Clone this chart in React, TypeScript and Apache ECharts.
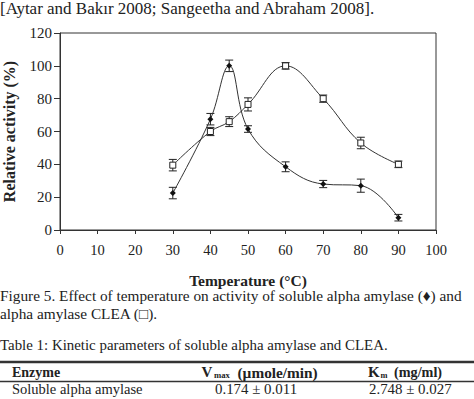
import React, { useEffect, useRef } from "react";
import * as echarts from "echarts";

const temps = [30, 40, 45, 50, 60, 70, 80, 90];
const soluble = [22.5, 67.5, 100, 61.5, 38.5, 28, 27, 7.5];
const solubleErr = [3.5, 3.5, 3.5, 2, 3, 2.2, 4, 2];
const clea = [39.5, 60, 66, 76.5, 100, 80, 53, 40];
const cleaErr = [3.5, 2.5, 3, 4, 2, 2.2, 3.5, 2];
const xTicks = [0, 10, 20, 30, 40, 50, 60, 70, 80, 90, 100];
const yTicks = [0, 20, 40, 60, 80, 100, 120];

const SERIF = "'Liberation Serif', 'Times New Roman', serif";
const INK = "#222";

function txt(text: string, x: number, y: number, size: number, opts: any = {}) {
  return {
    type: "text",
    x,
    y,
    style: {
      text,
      fontFamily: SERIF,
      fontSize: size,
      lineHeight: size,
      fontWeight: opts.bold ? "bold" : "normal",
      fill: INK,
      textAlign: opts.align ?? "left",
      textVerticalAlign: "middle",
    },
    silent: true,
  };
}

function errData(vals: number[], errs: number[]) {
  return temps.map((t, i) => [t, vals[i] - errs[i], vals[i] + errs[i]]);
}

function errorBarSeries(vals: number[], errs: number[]) {
  return {
    type: "custom",
    z: 1,
    data: errData(vals, errs),
    renderItem: (_p: any, api: any) => {
      const x = api.value(0);
      const lo = api.coord([x, api.value(1)]);
      const hi = api.coord([x, api.value(2)]);
      const w = 4;
      const style = { stroke: INK, lineWidth: 1 };
      return {
        type: "group",
        children: [
          { type: "line", shape: { x1: hi[0], y1: hi[1], x2: lo[0], y2: lo[1] }, style },
          { type: "line", shape: { x1: hi[0] - w, y1: hi[1], x2: hi[0] + w, y2: hi[1] }, style },
          { type: "line", shape: { x1: lo[0] - w, y1: lo[1], x2: lo[0] + w, y2: lo[1] }, style },
        ],
      };
    },
  };
}

export default function App() {
  const ref = useRef<HTMLDivElement>(null);
  useEffect(() => {
    if (!ref.current) return;
    const chart = echarts.init(ref.current, undefined, { renderer: "svg" });
    chart.setOption({
      animation: false,
      backgroundColor: "#fff",
      grid: {
        left: 60,
        right: 38,
        top: 33,
        bottom: 169,
        show: true,
        borderColor: "#333",
        borderWidth: 1,
      },
      xAxis: {
        type: "value",
        min: 0,
        max: 100,
        interval: 10,
        axisLine: { show: true, lineStyle: { color: "#333", width: 1 } },
        axisTick: { show: true, length: 4, inside: false, lineStyle: { color: "#333" } },
        splitLine: { show: false },
        axisLabel: {
          margin: 12,
          fontFamily: SERIF,
          fontSize: 14.5,
          color: INK,
          formatter: (v: number) => (xTicks.includes(v) ? String(v) : ""),
        },
      },
      yAxis: {
        type: "value",
        min: 0,
        max: 120,
        interval: 20,
        axisLine: { show: true, lineStyle: { color: "#333", width: 1 } },
        axisTick: { show: true, length: 6, inside: false, lineStyle: { color: "#333" } },
        splitLine: { show: false },
        axisLabel: {
          margin: 8,
          fontFamily: SERIF,
          fontSize: 15,
          color: INK,
          formatter: (v: number) => (yTicks.includes(v) ? String(v) : ""),
        },
      },
      series: [
        errorBarSeries(soluble, solubleErr),
        errorBarSeries(clea, cleaErr),
        {
          type: "line",
          z: 2,
          data: temps.map((t, i) => [t, soluble[i]]),
          smooth: 0.4,
          symbol: "diamond",
          symbolSize: 6,
          lineStyle: { color: "#333", width: 1 },
          itemStyle: { color: "#111" },
        },
        {
          type: "line",
          z: 3,
          data: temps.map((t, i) => [t, clea[i]]),
          smooth: 0.4,
          symbol: "rect",
          symbolSize: 6,
          lineStyle: { color: "#333", width: 1 },
          itemStyle: { color: "#fff", borderColor: INK, borderWidth: 1 },
        },
      ],
      graphic: [
        txt("[Aytar and Bakır 2008; Sangeetha and Abraham 2008].", 0, 8.5, 17),
        {
          type: "text",
          x: 9,
          y: 131.5,
          rotation: Math.PI / 2,
          style: {
            text: "Relative activity (%)",
            fontFamily: SERIF,
            fontSize: 16,
            lineHeight: 16,
            fontWeight: "bold",
            fill: INK,
            textAlign: "center",
            textVerticalAlign: "middle",
          },
          silent: true,
        },
        txt("Temperature (°C)", 248, 280, 15.5, { bold: true, align: "center" }),
        txt("Figure 5. Effect of temperature on activity of soluble alpha amylase (♦) and", 0, 295.5, 15.3),
        txt("alpha amylase CLEA (□).", 0, 313, 15.3),
        txt("Table 1: Kinetic parameters of soluble alpha amylase and CLEA.", 0, 344.5, 14.9),
        { type: "line", shape: { x1: 0, y1: 362, x2: 474, y2: 362 }, style: { stroke: "#333", lineWidth: 2.5 }, silent: true },
        { type: "line", shape: { x1: 0, y1: 381.5, x2: 474, y2: 381.5 }, style: { stroke: "#333", lineWidth: 1.3 }, silent: true },
        txt("Enzyme", 12, 372, 14, { bold: true }),
        txt("V", 201.5, 372, 15, { bold: true }),
        txt("max", 214, 375, 8.7, { bold: true }),
        txt("(µmole/min)", 237.5, 372, 15.3, { bold: true }),
        txt("K", 368, 372, 15, { bold: true }),
        txt("m", 380.5, 375, 8.4, { bold: true }),
        txt("(mg/ml)", 394, 372, 14.2, { bold: true }),
        txt("Soluble alpha amylase", 12, 388.5, 14.5),
        txt("0.174 ± 0.011", 215, 388.5, 14.9),
        txt("2.748 ± 0.027", 369, 388.5, 14.9),
      ],
    });
    return () => chart.dispose();
  }, []);
  return (
    <div
      ref={ref}
      style={{ position: "fixed", left: 0, top: 0, width: 474, height: 399, background: "#fff" }}
    />
  );
}
